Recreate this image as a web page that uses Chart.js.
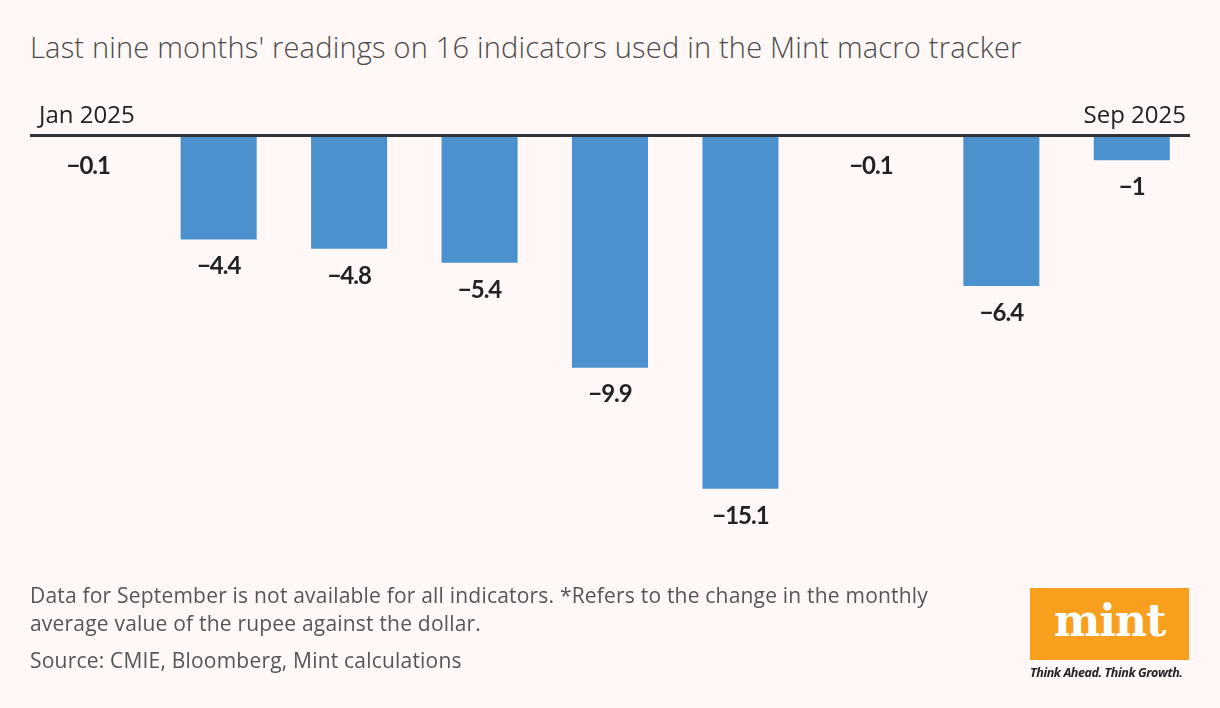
<!DOCTYPE html>
<html lang="en">
<head>
  <meta charset="UTF-8">
  <title>Mint macro tracker</title>
  <script src="https://cdn.jsdelivr.net/npm/chart.js"></script>
  <style>
    body {
      margin: 0;
      background: #fff8f7;
      font-family: "Open Sans", sans-serif;
    }
    .wrap {
      position: relative;
      width: 1220px;
      height: 708px;
      overflow: hidden;
    }
    .title {
      position: absolute;
      left: 30px;
      top: 27px;
      font-size: 29px;
      font-weight: 300;
      color: #4a4a4a;
      letter-spacing: 0.2px;
      white-space: nowrap;
    }
    .note {
      position: absolute;
      left: 30px;
      font-size: 21px;
      color: #555;
      line-height: 28px;
      letter-spacing: 0.2px;
      white-space: nowrap;
    }
    .logo {
      position: absolute;
      left: 1030px;
      top: 588px;
      width: 159px;
      height: 72px;
      background: #f8a01e;
      color: #fff;
      font-family: "DejaVu Serif", serif;
      font-weight: bold;
      font-size: 44px;
      text-align: center;
      line-height: 66px;
      letter-spacing: -1px;
    }
    .tag {
      position: absolute;
      left: 1030px;
      top: 664px;
      width: 162px;
      font-size: 12.5px;
      font-weight: bold;
      font-style: italic;
      color: #222;
      letter-spacing: -0.4px;
      white-space: nowrap;
    }
    canvas {
      position: absolute;
      left: 0;
      top: 0;
    }
  </style>
</head>
<body>
  <div class="wrap">
    <div class="title">Last nine months' readings on 16 indicators used in the Mint macro tracker</div>
    <canvas id="chart" width="1220" height="708"></canvas>
    <div class="note" style="top:581px">Data for September is not available for all indicators. *Refers to the change in the monthly<br>average value of the rupee against the dollar.</div>
    <div class="note" style="top:646px">Source: CMIE, Bloomberg, Mint calculations</div>
    <div class="logo">mint</div>
    <div class="tag">Think Ahead. Think Growth.</div>
  </div>

  <script>
    // chart data
    const months = ['Jan 2025', 'Feb 2025', 'Mar 2025', 'Apr 2025', 'May 2025', 'Jun 2025', 'Jul 2025', 'Aug 2025', 'Sep 2025'];
    const readings = [-0.1, -4.4, -4.8, -5.4, -9.9, -15.1, -0.1, -6.4, -1];
    const edgeLabels = ['Jan 2025', 'Sep 2025'];

    const fmt = v => String(v).replace('-', '\u2212');

    // top axis line + first/last month labels
    const axisPlugin = {
      id: 'topAxis',
      afterDatasetsDraw(chart) {
        const { ctx, chartArea, scales } = chart;
        const y0 = scales.y.getPixelForValue(0);
        ctx.save();
        ctx.fillStyle = '#333';
        // slightly thick line so near-zero bars disappear under it, like the original
        ctx.fillRect(chartArea.left + 7, y0 - 3, chartArea.width - 14, 3);
        ctx.fillStyle = '#fff8f7';
        ctx.restore();
        ctx.save();
        ctx.fillStyle = '#222';
        ctx.font = '24px "Open Sans"';
        ctx.textBaseline = 'alphabetic';
        ctx.textAlign = 'left';
        ctx.fillText(edgeLabels[0], chartArea.left + 16, y0 - 14);
        ctx.textAlign = 'right';
        ctx.fillText(edgeLabels[1], chartArea.right - 11, y0 - 14);
        ctx.restore();
      }
    };

    // value labels under each bar
    const valuePlugin = {
      id: 'values',
      afterDatasetsDraw(chart) {
        const { ctx } = chart;
        const meta = chart.getDatasetMeta(0);
        ctx.save();
        ctx.fillStyle = '#222';
        ctx.font = 'bold 24px Lato';
        ctx.letterSpacing = '-1px';
        ctx.textAlign = 'center';
        ctx.textBaseline = 'top';
        meta.data.forEach((bar, i) => {
          ctx.fillText(fmt(readings[i]), bar.x, bar.y + 15);
        });
        ctx.restore();
      }
    };

    new Chart(document.getElementById('chart'), {
      type: 'bar',
      data: {
        labels: months,
        datasets: [{
          data: readings,
          // bars thinner than a few pixels are not shown in the original
          backgroundColor: c => Math.abs(c.raw) < 0.5 ? 'rgba(0,0,0,0)' : '#4a91ce',
          categoryPercentage: 1,
          barPercentage: 0.583,
        }]
      },
      options: {
        responsive: false,
        animation: false,
        layout: {
          padding: { left: 23, right: 23, top: 137, bottom: 105 }
        },
        plugins: {
          legend: { display: false },
          tooltip: { enabled: false },
        },
        scales: {
          x: { display: false },
          y: { display: false, min: -20, max: 0 },
        },
      },
      plugins: [axisPlugin, valuePlugin],
    });
  </script>
</body>
</html>
